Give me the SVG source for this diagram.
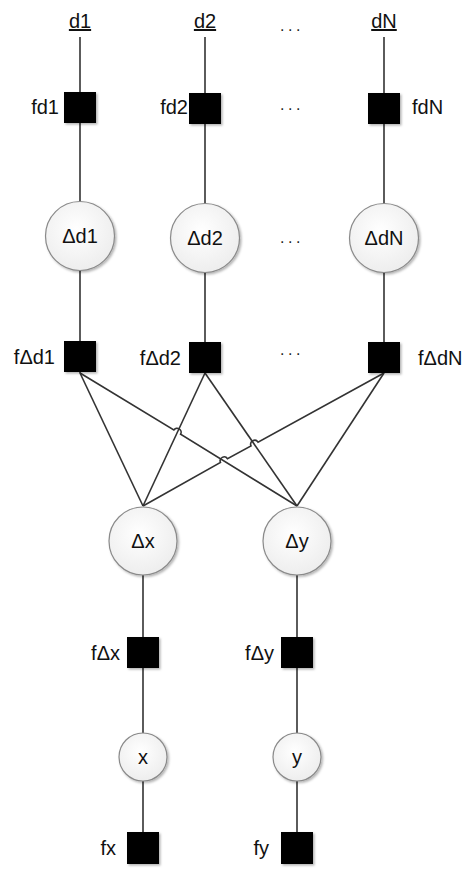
<svg xmlns="http://www.w3.org/2000/svg" width="474" height="873" viewBox="0 0 474 873">
<defs>
<radialGradient id="cg" cx="0.45" cy="0.4" r="0.65">
<stop offset="0" stop-color="#ffffff"/>
<stop offset="1" stop-color="#ececec"/>
</radialGradient>
<filter id="sh" x="-20%" y="-20%" width="150%" height="150%">
<feDropShadow dx="1.5" dy="1.5" stdDeviation="1.2" flood-color="#000" flood-opacity="0.3"/>
</filter>
<style>
.ln{stroke:#333;stroke-width:1.6;fill:none}
.sq{fill:#000;filter:url(#sh)}
.ci{fill:url(#cg);stroke:#8a8a8a;stroke-width:1.2;filter:url(#sh)}
.t{font-family:"Liberation Sans",Arial,sans-serif;font-size:20px;fill:#111}
.c{text-anchor:middle}
.r{text-anchor:end}
.dots{font-family:"Liberation Sans",Arial,sans-serif;font-size:16px;fill:#222;letter-spacing:3.5px;text-anchor:middle}
</style>
</defs>
<rect width="474" height="873" fill="#fff"/>
<g id="connectors">
<line class="ln" x1="80" y1="37" x2="80" y2="373"/>
<line class="ln" x1="205" y1="37" x2="205" y2="373"/>
<line class="ln" x1="384" y1="37" x2="384" y2="373"/>
<line class="ln" x1="143" y1="541" x2="143" y2="848"/>
<line class="ln" x1="297" y1="541" x2="297" y2="848"/>
<line class="ln" x1="80" y1="373" x2="143" y2="506"/>
<path class="ln" d="M80 373 L173.8 430 A4 4 0 0 1 180.6 434.2 L297 506"/>
<line class="ln" x1="205" y1="373" x2="143" y2="506"/>
<line class="ln" x1="205" y1="373" x2="297" y2="506"/>
<path class="ln" d="M143 506 L220.5 462.5 A4 4 0 0 1 227.5 458.7 L251 445.9 A4 4 0 0 1 258 442.1 L384 373"/>
<line class="ln" x1="384" y1="373" x2="297" y2="506"/>
</g>
<g id="d1"><text class="t c" x="80" y="28" text-decoration="underline">d1</text></g>
<g id="d2"><text class="t c" x="205" y="28" text-decoration="underline">d2</text></g>
<g id="dN"><text class="t c" x="384" y="28" text-decoration="underline">dN</text></g>
<g id="dots1"><text class="dots" x="292" y="31">...</text></g>
<g id="fd1"><rect class="sq" x="64" y="92" width="32" height="31"/><text class="t r" x="59" y="114">fd1</text></g>
<g id="fd2"><rect class="sq" x="189" y="93" width="32" height="31"/><text class="t r" x="188" y="114">fd2</text></g>
<g id="dots2"><text class="dots" x="292" y="110">...</text></g>
<g id="fdN"><rect class="sq" x="368" y="93" width="32" height="31"/><text class="t" x="412" y="114">fdN</text></g>
<g id="Dd1"><circle class="ci" cx="80" cy="236" r="34.5"/><text class="t c" x="80" y="243">Δd1</text></g>
<g id="Dd2"><circle class="ci" cx="205" cy="238" r="34.5"/><text class="t c" x="205" y="245">Δd2</text></g>
<g id="dots3"><text class="dots" x="292" y="243">...</text></g>
<g id="DdN"><circle class="ci" cx="384" cy="238" r="34.5"/><text class="t c" x="384" y="245">ΔdN</text></g>
<g id="fDd1"><rect class="sq" x="64" y="341" width="32" height="31"/><text class="t r" x="55" y="364">fΔd1</text></g>
<g id="fDd2"><rect class="sq" x="189" y="342" width="32" height="31"/><text class="t r" x="181" y="365">fΔd2</text></g>
<g id="dots4"><text class="dots" x="292" y="355">...</text></g>
<g id="fDdN"><rect class="sq" x="368" y="342" width="32" height="31"/><text class="t" x="418" y="365">fΔdN</text></g>
<g id="Dx"><circle class="ci" cx="143" cy="541" r="34"/><text class="t c" x="143" y="548">Δx</text></g>
<g id="Dy"><circle class="ci" cx="297" cy="541" r="34"/><text class="t c" x="297" y="548">Δy</text></g>
<g id="fDx"><rect class="sq" x="127" y="637" width="32" height="31"/><text class="t r" x="120" y="660">fΔx</text></g>
<g id="fDy"><rect class="sq" x="281" y="637" width="32" height="31"/><text class="t r" x="274" y="660">fΔy</text></g>
<g id="x"><circle class="ci" cx="143" cy="757" r="24"/><text class="t c" x="143" y="764">x</text></g>
<g id="y"><circle class="ci" cx="297" cy="757" r="24"/><text class="t c" x="297" y="764">y</text></g>
<g id="fx"><rect class="sq" x="127" y="832" width="32" height="32"/><text class="t r" x="116" y="855">fx</text></g>
<g id="fy"><rect class="sq" x="281" y="832" width="32" height="32"/><text class="t r" x="269" y="855">fy</text></g>
</svg>
